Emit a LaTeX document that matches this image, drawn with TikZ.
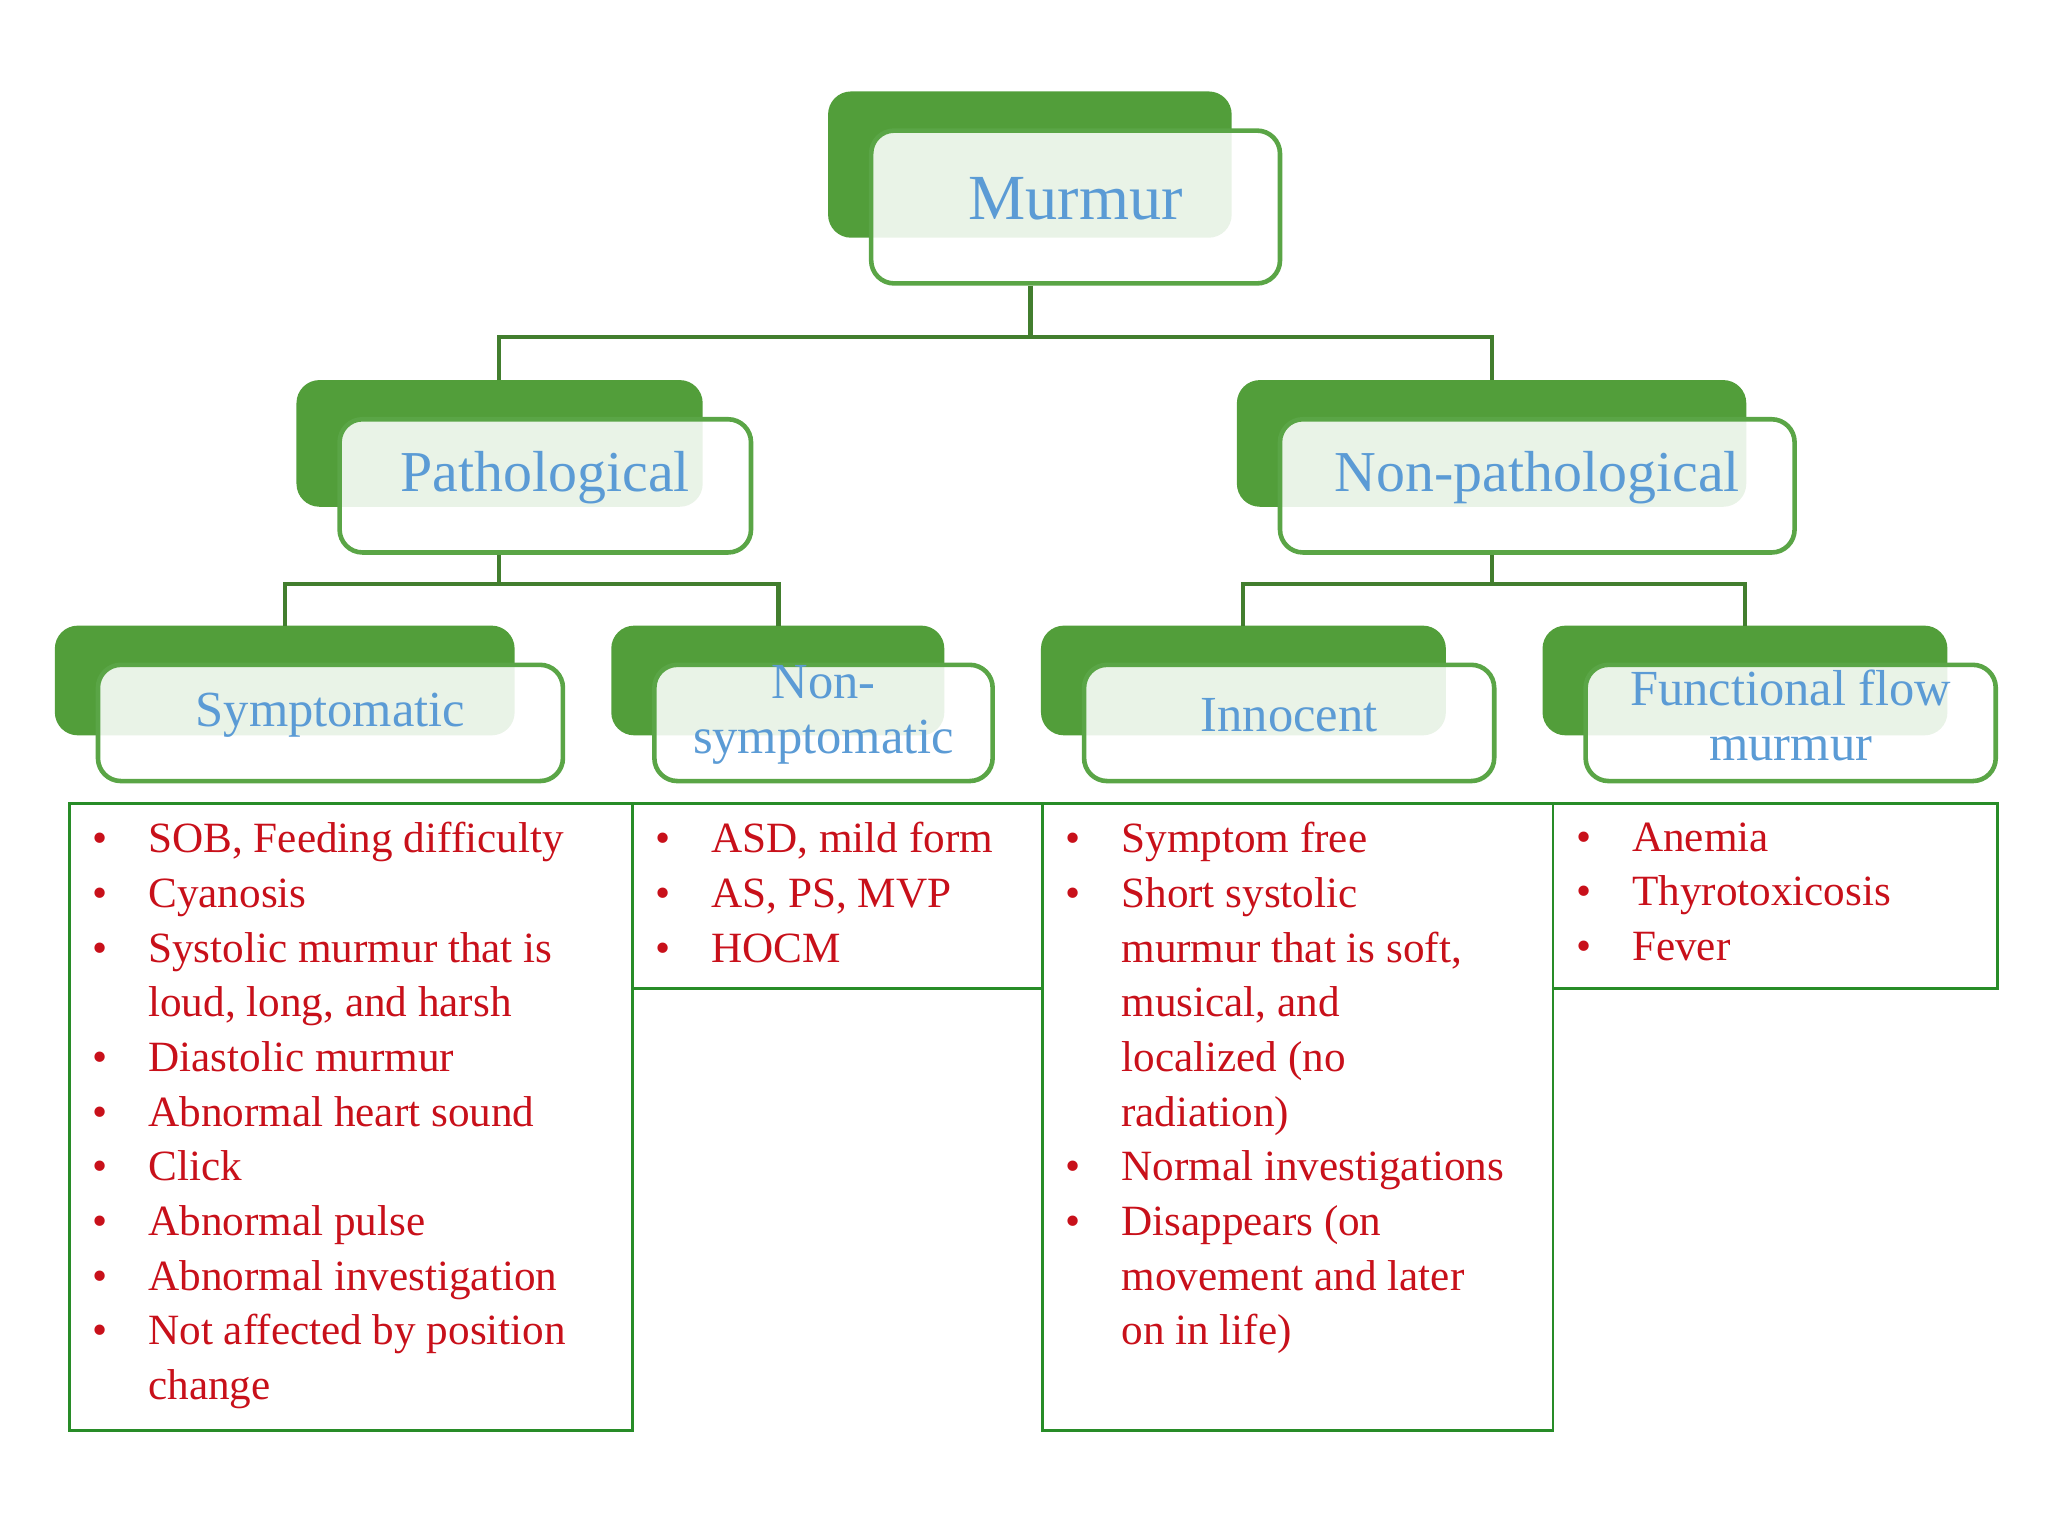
\documentclass[tikz,border=0pt]{standalone}
\usepackage{fontspec}
\setmainfont{Liberation Serif}
\usetikzlibrary{positioning}
\definecolor{dg}{RGB}{82,158,58}
\definecolor{bd}{RGB}{90,165,70}
\definecolor{lb}{RGB}{91,155,213}
\definecolor{rd}{RGB}{200,16,26}
\definecolor{bx}{RGB}{40,140,40}
\tikzset{
  back/.style={fill=dg,draw=none,rounded corners=5pt},
  front/.style={draw=bd,line width=1pt,fill=white,fill opacity=0.88,text opacity=1,rounded corners=5pt,inner sep=0pt},
  conn/.style={draw=dg!80!black,line width=0.9pt},
  list/.style={draw=bx,line width=0.6pt},
  ltext/.style={anchor=north west,inner sep=0pt,text=rd,font=\fontsize{9.4}{11.9}\selectfont,align=left},
}
\newcommand{\bl}{\makebox[12.2pt][l]{\textbullet}}
\newcommand{\hdr}[7]{% name x1 y1 x2 y2 text fontsize
  \fill[back] (#2-33,#3-30) rectangle (#4-37,#5-35);
  \node[front,minimum width={(#4-#2)*0.01cm},minimum height={(#5-#3)*0.01cm}] (#1) at ({(#2+#4)/2},{(#3+#5)/2}) {};
  \node[text=lb,align=center,font=\fontsize{#7}{12}\selectfont,inner sep=0pt] at ({(#2+#4)/2},{(#3+#5)/2-6}) {#6};
}
\begin{document}
\begin{tikzpicture}[x=0.01cm,y=-0.01cm]
\useasboundingbox (0,0) rectangle (1568,1176);
\hdr{mur}{667}{100}{980}{217}{Murmur}{14}
\hdr{pat}{260}{321}{575}{423}{Pathological}{12.6}
\hdr{non}{980}{321}{1374}{423}{Non-pathological}{12.6}
\hdr{sym}{75}{509}{431}{598}{Symptomatic}{11}
\hdr{nsy}{501}{509}{760}{598}{Non-\\symptomatic}{11}
\hdr{inn}{830}{509}{1144}{598}{Innocent}{11}
\hdr{fun}{1214}{509}{1528}{598}{Functional flow\\murmur}{11}
% connectors
\coordinate (j0) at (789,258);
\coordinate (jp) at (382,447);
\coordinate (jn) at (1142,447);
\draw[conn] (mur.south -| j0) -- (j0);
\draw[conn] (382,291) |- (j0) -| (1142,291);
\draw[conn] (pat.south -| jp) -- (jp);
\draw[conn] (218,479) |- (jp) -| (596,479);
\draw[conn] (non.south -| jn) -- (jn);
\draw[conn] (952,479) |- (jn) -| (1336,479);
% list boxes
\node[list,minimum width=431*0.01cm,minimum height=480*0.01cm,anchor=north west,inner sep=0pt] (l1) at (52,614) {};
\node[list,minimum width=314*0.01cm,minimum height=142*0.01cm,anchor=north west,inner sep=0pt] (l2) at (483,614) {};
\node[list,minimum width=391*0.01cm,minimum height=480*0.01cm,anchor=north west,inner sep=0pt] (l3) at (797,614) {};
\node[list,minimum width=340*0.01cm,minimum height=142*0.01cm,anchor=north west,inner sep=0pt] (l4) at (1188,614) {};
\node[ltext] (t1) at (70,629) {\bl SOB, Feeding difficulty\\ \bl Cyanosis\\ \bl Systolic murmur that is\\ \hspace*{12.2pt}loud, long, and harsh\\ \bl Diastolic murmur\\ \bl Abnormal heart sound\\ \bl Click\\ \bl Abnormal pulse\\ \bl Abnormal investigation\\ \bl Not affected by position\\ \hspace*{12.2pt}change};
\node[ltext] (t2) at (501,629) {\bl ASD, mild form\\ \bl AS, PS, MVP\\ \bl HOCM};
\node[ltext] (t3) at (815,629) {\bl Symptom free\\ \bl Short systolic\\ \hspace*{12.2pt}murmur that is soft,\\ \hspace*{12.2pt}musical, and\\ \hspace*{12.2pt}localized (no\\ \hspace*{12.2pt}radiation)\\ \bl Normal investigations\\ \bl Disappears (on\\ \hspace*{12.2pt}movement and later\\ \hspace*{12.2pt}on in life)};
\node[ltext] (t4) at (1206,629) {\bl Anemia\\ \bl Thyrotoxicosis\\ \bl Fever};
\end{tikzpicture}
\end{document}
